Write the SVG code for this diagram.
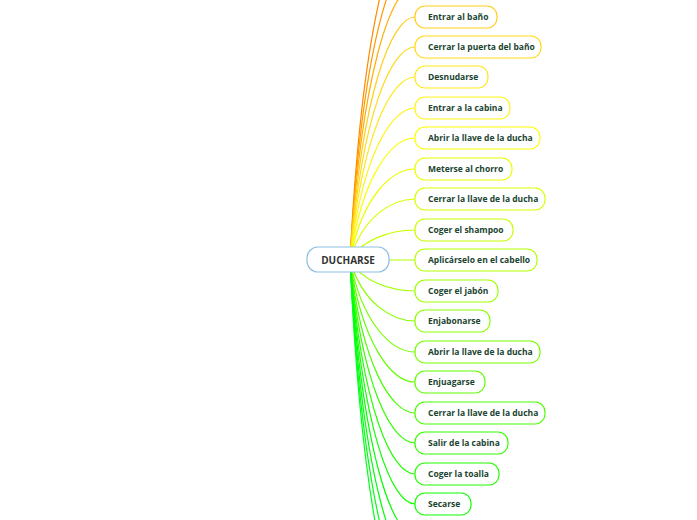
<svg xmlns="http://www.w3.org/2000/svg" width="697" height="520" viewBox="0 0 697 520">
<style>
.e{fill:none;stroke-width:1.2}
.n rect{fill:#fff;stroke-width:1.2}
.n text{font-family:"Open Sans","DejaVu Sans",sans-serif;font-weight:bold;font-size:8.5px;fill:#1a4430}
</style>
<rect width="697" height="520" fill="#fff"/>
<g id="edges">
<path class="e" stroke="hsl(32,100%,50%)" d="M350,260 C362,25 392,-75 415,-75"/>
<path class="e" stroke="hsl(36,100%,50%)" d="M350,260 C362,47 392,-44 415,-44"/>
<path class="e" stroke="hsl(41,100%,50%)" d="M350,260 C362,68 392,-14 415,-14"/>
<path class="e" stroke="hsl(47,100%,55%)" d="M350,260 C362,90 392,17 415,17"/>
<path class="e" stroke="hsl(50,100%,55%)" d="M350,260 C362,111 392,47 415,47"/>
<path class="e" stroke="hsl(54,100%,55%)" d="M350,260 C362,132 392,77 415,77"/>
<path class="e" stroke="hsl(57,100%,55%)" d="M350,260 C362,154 392,108 415,108"/>
<path class="e" stroke="hsl(61,100%,50%)" d="M350,260 C362,175 392,138 415,138"/>
<path class="e" stroke="hsl(65,100%,50%)" d="M350,260 C362,196 392,169 415,169"/>
<path class="e" stroke="hsl(69,100%,50%)" d="M350,260 C362,217 392,199 415,199"/>
<path class="e" stroke="hsl(73,100%,50%)" d="M350,260 C362,239 392,230 415,230"/>
<path class="e" stroke="hsl(78,100%,50%)" d="M350,260 C362,260 392,260 415,260"/>
<path class="e" stroke="hsl(83,100%,50%)" d="M350,260 C362,282 392,291 415,291"/>
<path class="e" stroke="hsl(88,100%,50%)" d="M350,260 C362,303 392,321 415,321"/>
<path class="e" stroke="hsl(93,100%,50%)" d="M350,260 C362,324 392,352 415,352"/>
<path class="e" stroke="hsl(98,100%,50%)" d="M350,260 C362,345 392,382 415,382"/>
<path class="e" stroke="hsl(103,100%,50%)" d="M350,260 C362,367 392,413 415,413"/>
<path class="e" stroke="hsl(108,100%,50%)" d="M350,260 C362,388 392,443 415,443"/>
<path class="e" stroke="hsl(112,100%,50%)" d="M350,260 C362,410 392,474 415,474"/>
<path class="e" stroke="hsl(116,100%,50%)" d="M350,260 C362,431 392,504 415,504"/>
<path class="e" stroke="hsl(120,100%,50%)" d="M350,260 C362,452 392,535 415,535"/>
<path class="e" stroke="hsl(122,100%,50%)" d="M350,260 C362,474 392,565 415,565"/>
<path class="e" stroke="hsl(124,100%,50%)" d="M350,260 C362,495 392,596 415,596"/>
<path class="e" stroke="hsl(126,100%,50%)" d="M350,260 C362,516 392,626 415,626"/>
</g>
<g id="root" class="n"><rect x="307" y="247" width="82" height="25" rx="11" stroke="#8ec0e4" stroke-width="2"/><text x="348" y="263.5" text-anchor="middle" style="font-size:10px;fill:#333">DUCHARSE</text></g>
<g id="n1" class="n"><rect x="415" y="6" width="82" height="22" rx="10" stroke="hsl(47,100%,55%)"/><text x="428" y="20">Entrar al baño</text></g>
<g id="n2" class="n"><rect x="415" y="36" width="126" height="22" rx="10" stroke="hsl(50,100%,55%)"/><text x="428" y="50">Cerrar la puerta del baño</text></g>
<g id="n3" class="n"><rect x="415" y="66" width="73" height="22" rx="10" stroke="hsl(54,100%,55%)"/><text x="428" y="80">Desnudarse</text></g>
<g id="n4" class="n"><rect x="415" y="97" width="95" height="22" rx="10" stroke="hsl(57,100%,55%)"/><text x="428" y="111">Entrar a la cabina</text></g>
<g id="n5" class="n"><rect x="415" y="127" width="125" height="22" rx="10" stroke="hsl(61,100%,50%)"/><text x="428" y="141">Abrir la llave de la ducha</text></g>
<g id="n6" class="n"><rect x="415" y="158" width="97" height="22" rx="10" stroke="hsl(65,100%,50%)"/><text x="428" y="172">Meterse al chorro</text></g>
<g id="n7" class="n"><rect x="415" y="188" width="130" height="22" rx="10" stroke="hsl(69,100%,50%)"/><text x="428" y="202">Cerrar la llave de la ducha</text></g>
<g id="n8" class="n"><rect x="415" y="219" width="98" height="22" rx="10" stroke="hsl(73,100%,50%)"/><text x="428" y="233">Coger el shampoo</text></g>
<g id="n9" class="n"><rect x="415" y="249" width="122" height="22" rx="10" stroke="hsl(78,100%,50%)"/><text x="428" y="263">Aplicárselo en el cabello</text></g>
<g id="n10" class="n"><rect x="415" y="280" width="83" height="22" rx="10" stroke="hsl(83,100%,50%)"/><text x="428" y="294">Coger el jabón</text></g>
<g id="n11" class="n"><rect x="415" y="310" width="75" height="22" rx="10" stroke="hsl(88,100%,50%)"/><text x="428" y="324">Enjabonarse</text></g>
<g id="n12" class="n"><rect x="415" y="341" width="125" height="22" rx="10" stroke="hsl(93,100%,50%)"/><text x="428" y="355">Abrir la llave de la ducha</text></g>
<g id="n13" class="n"><rect x="415" y="371" width="70" height="22" rx="10" stroke="hsl(98,100%,50%)"/><text x="428" y="385">Enjuagarse</text></g>
<g id="n14" class="n"><rect x="415" y="402" width="130" height="22" rx="10" stroke="hsl(103,100%,50%)"/><text x="428" y="416">Cerrar la llave de la ducha</text></g>
<g id="n15" class="n"><rect x="415" y="432" width="93" height="22" rx="10" stroke="hsl(108,100%,50%)"/><text x="428" y="446">Salir de la cabina</text></g>
<g id="n16" class="n"><rect x="415" y="463" width="84" height="22" rx="10" stroke="hsl(112,100%,50%)"/><text x="428" y="477">Coger la toalla</text></g>
<g id="n17" class="n"><rect x="415" y="493" width="56" height="22" rx="10" stroke="hsl(116,100%,50%)"/><text x="428" y="507">Secarse</text></g>
</svg>
